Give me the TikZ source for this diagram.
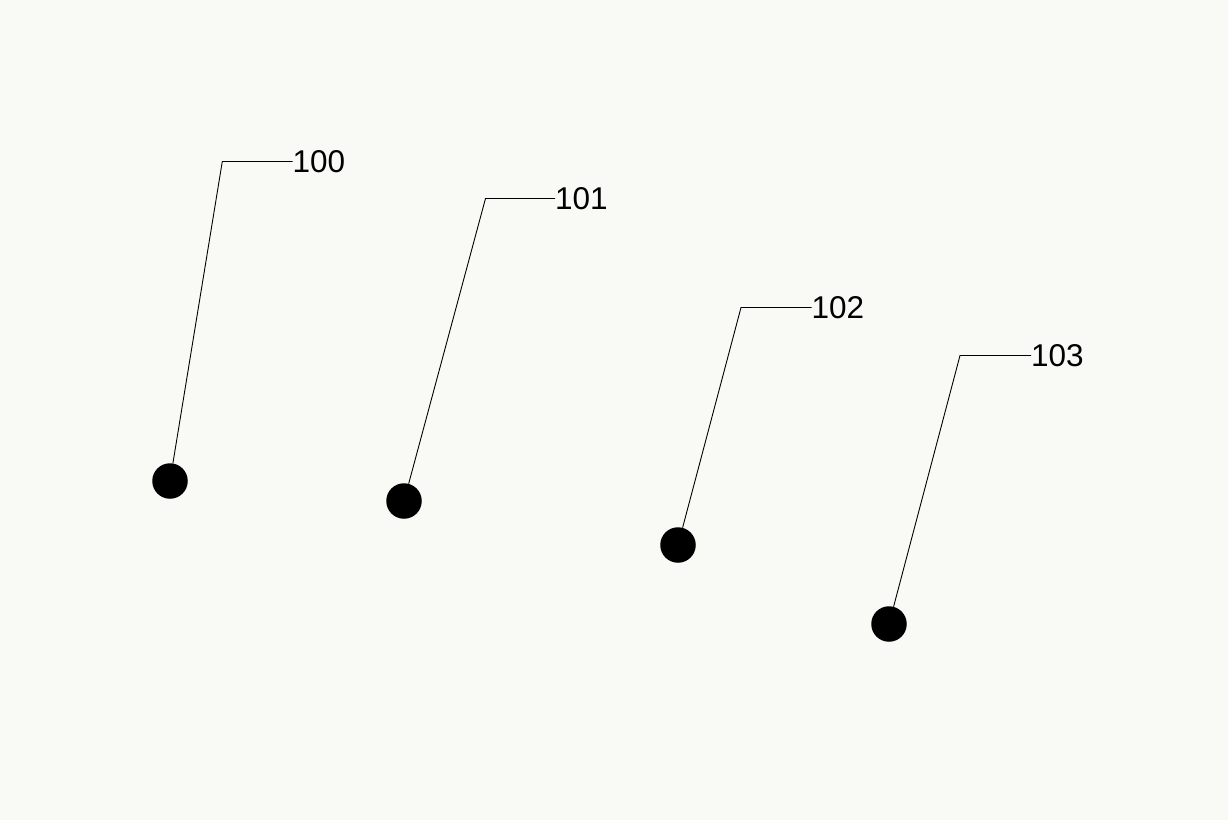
\documentclass[tikz,border=0pt]{standalone}
\usepackage{fontspec}
\setmainfont{Liberation Sans}
\definecolor{paper}{RGB}{249,250,245}

\begin{document}
\begin{tikzpicture}[x=1pt, y=-1pt,
    dot/.style={circle, fill=black, inner sep=0pt, minimum size=35.5pt},
    lbl/.style={anchor=west, inner sep=0pt, font=\fontsize{31.5}{36}\selectfont},
    lead/.style={line width=0.9pt}]
    \fill[paper] (0,0) rectangle (1228,820);
    \node[dot] (d100) at (170,481) {};
    \node[dot] (d101) at (404,501) {};
    \node[dot] (d102) at (678,545) {};
    \node[dot] (d103) at (889,624) {};
    \node[lbl] (l100) at (292.5,161.5) {100};
    \node[lbl] (l101) at (555,198.5) {101};
    \node[lbl] (l102) at (811.5,307.5) {102};
    \node[lbl] (l103) at (1031,355.5) {103};
    \coordinate (k100) at (222.3,161.5);
    \coordinate (k101) at (485.5,198.5);
    \coordinate (k102) at (741,307.5);
    \coordinate (k103) at (960,355.5);
    \draw[lead] (d100) -- (k100) -- (l100.west);
    \draw[lead] (d101) -- (k101) -- (l101.west);
    \draw[lead] (d102) -- (k102) -- (l102.west);
    \draw[lead] (d103) -- (k103) -- (l103.west);
\end{tikzpicture}
\end{document}
